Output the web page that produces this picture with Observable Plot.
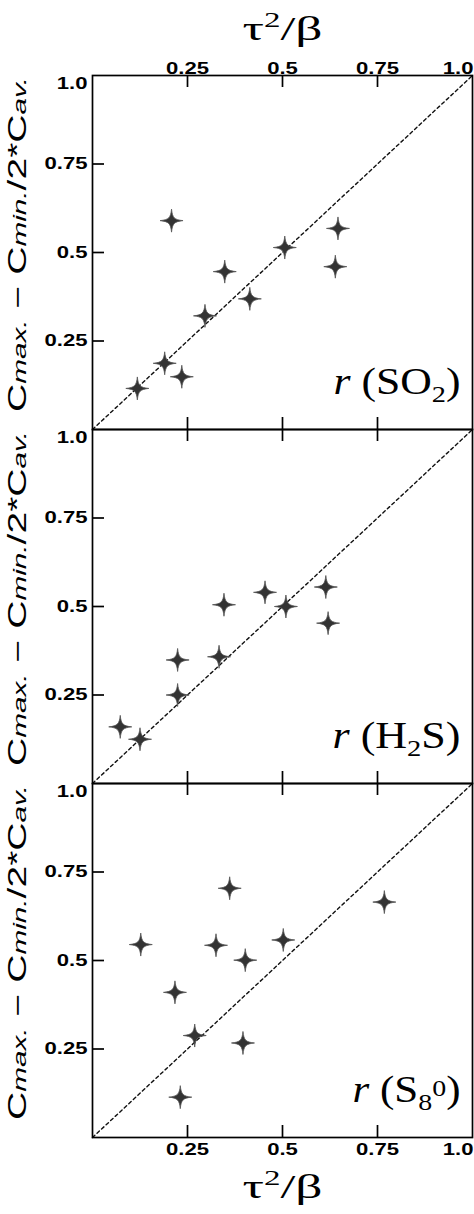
<!DOCTYPE html>
<html><head><meta charset="utf-8">
<script src="https://cdn.jsdelivr.net/npm/d3@7"></script>
<script src="https://cdn.jsdelivr.net/npm/@observablehq/plot@0.6"></script>
<style>html,body{margin:0;padding:0;background:#fff} svg{display:block}</style>
</head><body><div id="chart"></div>
<script>
// ---- data ----
const panels = ["SO2", "H2S", "S80"];
const so2X = [0.118, 0.190, 0.235, 0.296, 0.348, 0.414, 0.506, 0.639, 0.646, 0.208];
const so2Y = [0.116, 0.187, 0.149, 0.321, 0.446, 0.369, 0.514, 0.460, 0.568, 0.590];
const h2sX = [0.073, 0.125, 0.224, 0.224, 0.333, 0.346, 0.454, 0.509, 0.614, 0.620];
const h2sY = [0.160, 0.125, 0.250, 0.349, 0.358, 0.505, 0.540, 0.500, 0.555, 0.453];
const s8X  = [0.127, 0.217, 0.269, 0.231, 0.325, 0.361, 0.402, 0.396, 0.502, 0.768];
const s8Y  = [0.545, 0.410, 0.288, 0.114, 0.543, 0.704, 0.501, 0.267, 0.558, 0.665];
const xTicks = [0.25, 0.5, 0.75, 1.0];
const xTickLabels = ["0.25", "0.5", "0.75", "1.0"];
const yTicks = [0.25, 0.5, 0.75, 1.0];
const yTickLabels = ["0.25", "0.5", "0.75", "1.0"];
const diagonal = [0, 1];
const panelLabels = {SO2: "r (SO2)", H2S: "r (H2S)", S80: "r (S80)"};
const yTitle = "Cmax. − Cmin./2*Cav.";
const xTitle = "τ2/β";

const rows = [
  ...so2X.map((x, i) => ({panel: "SO2", x, y: so2Y[i]})),
  ...h2sX.map((x, i) => ({panel: "H2S", x, y: h2sY[i]})),
  ...s8X.map((x, i) => ({panel: "S80", x, y: s8Y[i]}))
];

// 4-pointed star symbol
const star4 = {
  draw(ctx, size) {
    const R = Math.sqrt(size / Math.PI);
    const c = 0.24 * R, d = 0.08 * R;
    ctx.moveTo(R, 0);
    ctx.bezierCurveTo(c, d, d, c, 0, R);
    ctx.bezierCurveTo(-d, c, -c, d, -R, 0);
    ctx.bezierCurveTo(-c, -d, -d, -c, 0, -R);
    ctx.bezierCurveTo(d, -c, c, -d, R, 0);
    ctx.closePath();
  }
};

const fmtX = d => xTickLabels[xTicks.indexOf(d)];
const fmtY = d => yTickLabels[yTicks.indexOf(d)];
const sans = "'Liberation Sans', Arial, Helvetica, sans-serif";
const serif = "'Liberation Serif', 'Times New Roman', Times, serif";
const tickFont = {fontSize: 17, fontWeight: "bold", fontFamily: sans};
// tick length as a fraction of each axis (≈12 px)
const tx = 12 / 354, ty = 12 / 380;
const innerX = xTicks.slice(0, 3), innerY = yTicks.slice(0, 3);

const chart = Plot.plot({
  width: 474,
  height: 1214,
  marginTop: 74,
  marginBottom: 77,
  marginLeft: 92,
  marginRight: 2,
  style: {fontFamily: sans, background: "#fff", color: "#000", overflow: "visible"},
  x: {domain: [0, 1]},
  y: {domain: [0, 1]},
  fy: {domain: panels, padding: 0, axis: null},
  marks: [
    Plot.line(diagonal, {x: d => d, y: d => d, stroke: "#111", strokeWidth: 1.4, strokeDasharray: "3.2,3"}),
    Plot.frame({stroke: "#000", strokeWidth: 1.7}),
    Plot.axisX({anchor: "top", ticks: innerX, tickFormat: fmtX, tickSize: 0, tickPadding: 2, label: null, ...tickFont}),
    Plot.axisX({anchor: "top", ticks: [1], tickFormat: fmtX, tickSize: 0, tickPadding: 2, textAnchor: "end", dx: 1, label: null, ...tickFont}),
    Plot.axisX({anchor: "bottom", ticks: innerX, tickFormat: fmtX, tickSize: 0, tickPadding: 5, label: null, ...tickFont}),
    Plot.axisX({anchor: "bottom", ticks: [1], tickFormat: fmtX, tickSize: 0, tickPadding: 5, textAnchor: "end", dx: 1, label: null, ...tickFont}),
    Plot.axisY({ticks: innerY, tickFormat: fmtY, tickSize: 0, tickPadding: 5, label: null, ...tickFont}),
    Plot.axisY({ticks: [1], tickFormat: fmtY, tickSize: 0, tickPadding: 5, dy: 8, label: null, ...tickFont}),
    Plot.dot(rows, {x: "x", y: "y", fy: "panel", symbol: star4, r: 11.5, fill: "#333", stroke: "#555", strokeWidth: 0.8}),
    Plot.text(panels, {fy: d => d, text: d => panelLabels[d], frameAnchor: "bottom-right", textAnchor: "end", lineAnchor: "bottom", dx: -12, dy: -36, fontSize: 37, fontFamily: serif, fill: "#000", className: "rlabel"}),
    Plot.text(panels, {fy: d => d, text: () => yTitle, frameAnchor: "left", rotate: -90, textAnchor: "middle", lineAnchor: "bottom", dx: -67, dy: -8, fontSize: 25, fontFamily: sans, fill: "#000", className: "ylabel"}),
    Plot.text([xTitle], {fy: () => "SO2", text: d => d, frameAnchor: "top", textAnchor: "middle", lineAnchor: "bottom", dy: -36, fontSize: 34, fontFamily: serif, fill: "#000", className: "xtitle"}),
    Plot.text([xTitle], {fy: () => "S80", text: d => d, frameAnchor: "bottom", textAnchor: "middle", lineAnchor: "bottom", dy: 60, fontSize: 34, fontFamily: serif, fill: "#000", className: "xtitle"}),
    // inward ticks, drawn last so nothing covers them
    Plot.ruleX(innerX, {x: d => d, y1: 0, y2: tx, stroke: "#000", strokeWidth: 1.7}),
    Plot.ruleX(innerX, {x: d => d, y1: 1 - tx, y2: 1, stroke: "#000", strokeWidth: 1.7}),
    Plot.ruleY(innerY, {y: d => d, x1: 0, x2: ty, stroke: "#000", strokeWidth: 1.7})
  ]
});
document.getElementById("chart").append(chart);
const svg = d3.select(chart);

// ---- fallback: if the tick rules did not come out, place them from the rendered frames ----
(function ensureTicks() {
  let ok = 0;
  svg.selectAll('g[aria-label="rule"] line').each(function () {
    const b = this.getBoundingClientRect();
    if (Math.max(b.width, b.height) > 5) ok++;
  });
  if (ok >= 27) return;
  const root = chart.getBoundingClientRect();
  const g = svg.append("g").attr("stroke", "#000").attr("stroke-width", 1.7);
  svg.selectAll('g[aria-label="frame"] rect').each(function () {
    const b = this.getBoundingClientRect();
    const L = b.left - root.left + 0.85, T = b.top - root.top + 0.85;
    const W = b.width - 1.7, H = b.height - 1.7;
    for (const v of innerX) {
      const X = L + v * W;
      g.append("line").attr("x1", X).attr("x2", X).attr("y1", T + H).attr("y2", T + H - 12);
      g.append("line").attr("x1", X).attr("x2", X).attr("y1", T).attr("y2", T + 12);
    }
    for (const v of innerY) {
      const Y = T + H - v * H;
      g.append("line").attr("x1", L).attr("x2", L + 12).attr("y1", Y).attr("y2", Y);
    }
  });
})();

// ---- rich text (subscripts, italics) and wide lettering ----
const NS = "http://www.w3.org/2000/svg";
function rich(el, parts, length) {
  while (el.firstChild) el.removeChild(el.firstChild);
  let shift = 0;
  for (const p of parts) {
    const t = document.createElementNS(NS, "tspan");
    t.textContent = p.t;
    if (p.size) t.setAttribute("font-size", p.size);
    if (p.italic) t.setAttribute("font-style", "italic");
    const s = p.shift || 0;
    if (s !== shift) { t.setAttribute("dy", s - shift); shift = s; }
    el.appendChild(t);
  }
  if (length) { el.setAttribute("textLength", length); el.setAttribute("lengthAdjust", "spacingAndGlyphs"); }
}
const richLabels = {
  "r (SO2)": [[{t: "r", italic: true}, {t: " (SO"}, {t: "2", size: 24, shift: 8}, {t: ")"}], 127],
  "r (H2S)": [[{t: "r", italic: true}, {t: " (H"}, {t: "2", size: 24, shift: 8}, {t: "S)"}], 128],
  "r (S80)": [[{t: "r", italic: true}, {t: " (S"}, {t: "8", size: 24, shift: 8}, {t: "0", size: 24, shift: -6}, {t: ")"}], 108]
};
svg.selectAll(".rlabel text").each(function () {
  const r = richLabels[this.textContent];
  if (r) rich(this, r[0], r[1]);
});
svg.selectAll(".ylabel text").each(function () {
  rich(this, [{t: "C"}, {t: "max.", italic: true, size: 19}, {t: " − C"}, {t: "min.", italic: true, size: 19}, {t: "/2*C"}, {t: "av.", italic: true, size: 19}], 335);
});
svg.selectAll(".xtitle text").each(function () {
  rich(this, [{t: "τ"}, {t: "2", size: 21, shift: -13}, {t: "/β"}], 80);
});
svg.selectAll('g[aria-label="x-axis tick label"] text, g[aria-label="y-axis tick label"] text').each(function () {
  const w = this.getComputedTextLength();
  this.setAttribute("textLength", (w * 1.3).toFixed(1));
  this.setAttribute("lengthAdjust", "spacingAndGlyphs");
});
</script>
</body></html>
